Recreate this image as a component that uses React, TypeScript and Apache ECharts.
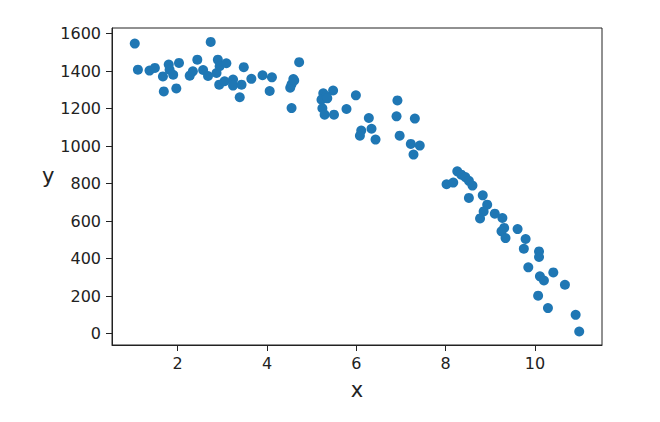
import React, { useEffect, useRef } from "react";
import * as echarts from "echarts";

const xValues = [
  1.04, 1.11, 1.37, 1.49, 1.67, 1.69, 1.80, 1.82, 1.90, 1.97, 2.03, 2.27, 2.34, 2.44, 2.57, 2.68, 2.74, 2.87, 2.90, 2.94,
  2.93, 3.09, 3.05, 3.24, 3.24, 3.43, 3.39, 3.48, 3.65, 3.90, 4.06, 4.11, 4.52, 4.55, 4.59, 4.61, 4.55, 4.72,
  5.26, 5.48, 5.22, 5.33, 5.35, 5.24, 5.29, 5.50, 5.78, 5.99, 6.28, 6.34, 6.11, 6.08, 6.43, 6.92, 6.90, 7.31, 6.97, 7.22, 7.42, 7.28,
  8.02, 8.17, 8.26, 8.35, 8.44, 8.52, 8.60, 8.52, 8.83, 8.93, 8.85, 8.77, 9.10, 9.27, 9.31, 9.25, 9.34, 9.61, 9.79, 9.75,
  10.09, 10.09, 9.85, 10.11, 10.20, 10.41, 10.67, 10.07, 10.29, 10.91, 10.99,
];
const yValues = [
  1547, 1408, 1403, 1417, 1372, 1292, 1435, 1408, 1381, 1308, 1444, 1376, 1399, 1461, 1406, 1374, 1556, 1390, 1461, 1426,
  1328, 1442, 1346, 1355, 1323, 1328, 1261, 1421, 1359, 1378, 1294, 1367, 1312, 1330, 1358, 1350, 1203, 1448,
  1282, 1297, 1248, 1266, 1255, 1202, 1168, 1168, 1198, 1271, 1150, 1093, 1083, 1056, 1035, 1244, 1159, 1147, 1056, 1012, 1003, 955,
  797, 806, 866, 848, 835, 815, 790, 724, 738, 688, 652, 615, 640, 617, 564, 546, 510, 558, 505, 453,
  439, 409, 354, 306, 284, 327, 261, 203, 137, 101, 12,
];
const xTicks = [2, 4, 6, 8, 10];
const yTicks = [0, 200, 400, 600, 800, 1000, 1200, 1400, 1600];

export default function App() {
  const ref = useRef<HTMLDivElement>(null);
  useEffect(() => {
    if (!ref.current) return;
    const chart = echarts.init(ref.current, undefined, { renderer: "svg" });
    const font = "DejaVu Sans";
    const data = xValues.map((x, i) => [x, yValues[i]]);
    chart.setOption({
      animation: false,
      backgroundColor: "#ffffff",
      grid: {
        left: 112,
        right: 58,
        top: 28,
        bottom: 77,
        show: true,
        borderColor: "#222",
        borderWidth: 1,
        backgroundColor: "transparent",
      },
      xAxis: {
        type: "value",
        min: 0.53,
        max: 11.5,
        name: "x",
        nameLocation: "middle",
        nameGap: 34,
        nameTextStyle: { fontFamily: font, fontSize: 21, color: "#222" },
        axisLine: { show: true, onZero: false, lineStyle: { color: "#222", width: 1 } },
        axisTick: { show: true, length: 6, lineStyle: { color: "#222" }, customValues: xTicks },
        axisLabel: {
          fontFamily: font,
          fontSize: 16,
          color: "#222",
          margin: 10,
          customValues: xTicks,
          formatter: (v: number) => String(v),
        },
        splitLine: { show: false },
      },
      yAxis: {
        type: "value",
        min: -60,
        max: 1630,
        name: "y",
        nameLocation: "middle",
        nameRotate: 0,
        nameGap: 47,
        nameTextStyle: { fontFamily: font, fontSize: 21, color: "#222", verticalAlign: "bottom" },
        axisLine: { show: true, onZero: false, lineStyle: { color: "#222", width: 1 } },
        axisTick: { show: true, length: 6, lineStyle: { color: "#222" }, customValues: yTicks },
        axisLabel: {
          fontFamily: font,
          fontSize: 16,
          color: "#222",
          margin: 11,
          customValues: yTicks,
          formatter: (v: number) => String(v),
        },
        splitLine: { show: false },
      },
      series: [
        {
          type: "scatter",
          data,
          symbolSize: 10,
          itemStyle: { color: "#1f77b4", opacity: 1 },
        },
      ],
    });
    return () => chart.dispose();
  }, []);
  return (
    <div
      ref={ref}
      style={{ position: "absolute", left: 0, top: 0, width: 660, height: 422 }}
    />
  );
}
